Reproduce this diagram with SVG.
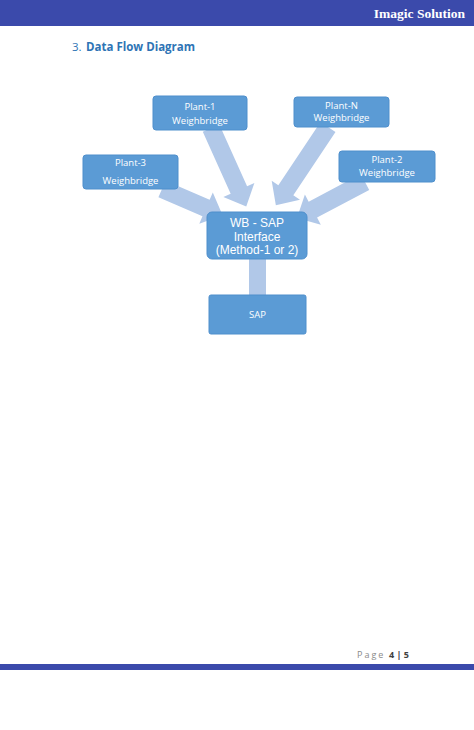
<svg xmlns="http://www.w3.org/2000/svg" width="474" height="730" viewBox="0 0 474 730">
<style>
.box{fill:#5b9bd5;stroke:#4f8fcc;stroke-width:1}
.arr{fill:#b1c8e8}
.t{font-family:"Open Sans","Liberation Sans",sans-serif;fill:#ffffff;text-anchor:middle}
.s{font-size:9.5px}
.w{font-family:"Liberation Sans",Arial,sans-serif;font-size:12px;fill:#ffffff;text-anchor:middle}
</style>
<rect x="0" y="0" width="474" height="26" fill="#3b4aab"/>
<text x="465" y="18" font-family="'Liberation Serif',serif" font-weight="bold" font-size="13.5" fill="#ffffff" text-anchor="end">Imagic Solution</text>
<text x="72" y="51" font-family="'Open Sans','Liberation Sans',sans-serif" font-size="11.5" fill="#2e74b5">3.</text>
<text x="86" y="51" font-family="'Open Sans','Liberation Sans',sans-serif" font-size="11.5" font-weight="bold" fill="#2e74b5">Data Flow Diagram</text>
<g id="connectors">
<polygon class="arr" transform="translate(211,128) rotate(65.8)" points="0,-9 68,-9 68,-17 86,0 68,17 68,9 0,9"/>
<polygon class="arr" transform="translate(162,189) rotate(23.4)" points="0,-9 48,-9 48,-17 66,0 48,17 48,9 0,9"/>
<polygon class="arr" transform="translate(328,127) rotate(123.7)" points="0,-9 76,-9 76,-17 94,0 76,17 76,9 0,9"/>
<polygon class="arr" transform="translate(365,182) rotate(152.1)" points="0,-9 59,-9 59,-17 77,0 59,17 59,9 0,9"/>
<rect class="arr" x="249" y="259" width="17" height="37"/>
</g>
<g id="plant1"><rect class="box" x="153" y="96" width="94" height="34" rx="3"/><text class="t s" x="200" y="110">Plant-1</text><text class="t s" x="200" y="124">Weighbridge</text></g>
<g id="plantN"><rect class="box" x="294" y="97" width="95" height="30" rx="3"/><text class="t s" x="341.5" y="109">Plant-N</text><text class="t s" x="341.5" y="121">Weighbridge</text></g>
<g id="plant3"><rect class="box" x="83" y="155" width="95" height="34" rx="3"/><text class="t s" x="130.5" y="166">Plant-3</text><text class="t s" x="130.5" y="184">Weighbridge</text></g>
<g id="plant2"><rect class="box" x="339" y="151" width="96" height="31" rx="3"/><text class="t s" x="387" y="163">Plant-2</text><text class="t s" x="387" y="176">Weighbridge</text></g>
<g id="wbsap"><rect class="box" x="207" y="212" width="100" height="47" rx="5"/><text class="w" x="257" y="227">WB - SAP</text><text class="w" x="257" y="240.5">Interface</text><text class="w" x="257" y="254">(Method-1 or 2)</text></g>
<g id="sap"><rect class="box" x="209" y="295" width="97" height="39" rx="2"/><text class="t s" x="257.5" y="318">SAP</text></g>
<text x="357" y="658" font-family="'Open Sans','Liberation Sans',sans-serif" font-size="9" fill="#8a8a8a" letter-spacing="2">Page</text>
<text x="389" y="658" font-family="'Open Sans','Liberation Sans',sans-serif" font-size="9" font-weight="bold" fill="#404040">4 | 5</text>
<rect x="0" y="664" width="474" height="6" fill="#3b4aab"/>
</svg>
